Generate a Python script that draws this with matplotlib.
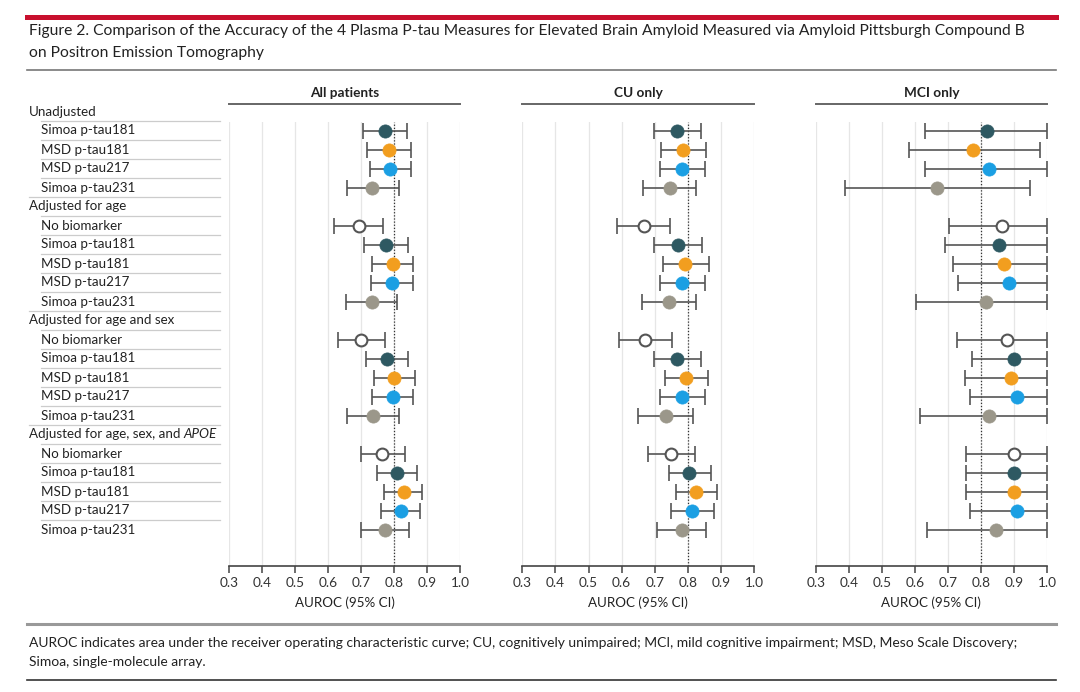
import matplotlib
matplotlib.use("Agg")
import matplotlib.pyplot as plt
from matplotlib.lines import Line2D

plt.rcParams['font.family'] = ['Lato', 'DejaVu Sans']

# ---------------- data ----------------
row_labels = ["Unadjusted", "Simoa p-tau181", "MSD p-tau181", "MSD p-tau217", "Simoa p-tau231",
              "Adjusted for age", "No biomarker", "Simoa p-tau181", "MSD p-tau181", "MSD p-tau217", "Simoa p-tau231",
              "Adjusted for age and sex", "No biomarker", "Simoa p-tau181", "MSD p-tau181", "MSD p-tau217", "Simoa p-tau231",
              "Adjusted for age, sex, and ", "No biomarker", "Simoa p-tau181", "MSD p-tau181", "MSD p-tau217", "Simoa p-tau231"]
is_header = [True, False, False, False, False,
             True, False, False, False, False, False,
             True, False, False, False, False, False,
             True, False, False, False, False, False]
measure = ["", "s181", "m181", "m217", "s231",
           "", "none", "s181", "m181", "m217", "s231",
           "", "none", "s181", "m181", "m217", "s231",
           "", "none", "s181", "m181", "m217", "s231"]

panel_titles = ["All patients", "CU only", "MCI only"]

# estimates / lower / upper for the 19 data rows, per panel
all_est = [0.772, 0.786, 0.788, 0.734,
           0.694, 0.775, 0.798, 0.795, 0.732,
           0.701, 0.780, 0.801, 0.796, 0.735,
           0.764, 0.810, 0.829, 0.821, 0.772]
all_lo = [0.707, 0.719, 0.726, 0.658,
          0.619, 0.709, 0.734, 0.731, 0.653,
          0.630, 0.714, 0.740, 0.734, 0.658,
          0.701, 0.747, 0.770, 0.761, 0.701]
all_hi = [0.838, 0.850, 0.852, 0.814,
          0.767, 0.841, 0.858, 0.857, 0.810,
          0.773, 0.843, 0.864, 0.858, 0.814,
          0.833, 0.869, 0.886, 0.880, 0.846]

cu_est = [0.767, 0.787, 0.781, 0.745,
          0.669, 0.770, 0.792, 0.783, 0.742,
          0.672, 0.768, 0.795, 0.782, 0.733,
          0.750, 0.805, 0.825, 0.814, 0.781]
cu_lo = [0.697, 0.720, 0.715, 0.664,
         0.587, 0.697, 0.725, 0.717, 0.662,
         0.593, 0.697, 0.730, 0.717, 0.651,
         0.681, 0.742, 0.765, 0.750, 0.708]
cu_hi = [0.840, 0.856, 0.851, 0.826,
         0.747, 0.842, 0.863, 0.853, 0.826,
         0.753, 0.840, 0.862, 0.851, 0.815,
         0.823, 0.870, 0.888, 0.878, 0.856]

mci_est = [0.817, 0.777, 0.824, 0.668,
           0.863, 0.855, 0.870, 0.885, 0.814,
           0.878, 0.901, 0.892, 0.909, 0.824,
           0.901, 0.901, 0.901, 0.909, 0.845]
mci_lo = [0.630, 0.581, 0.630, 0.390,
          0.704, 0.690, 0.717, 0.732, 0.603,
          0.729, 0.773, 0.753, 0.768, 0.616,
          0.756, 0.756, 0.756, 0.768, 0.638]
mci_hi = [1.000, 0.978, 1.000, 0.948,
          1.000, 1.000, 1.000, 1.000, 1.000,
          1.000, 1.000, 1.000, 1.000, 1.000,
          1.000, 1.000, 1.000, 1.000, 1.000]

xticks = [0.3, 0.4, 0.5, 0.6, 0.7, 0.8, 0.9, 1.0]
xtick_labels = ["0.3", "0.4", "0.5", "0.6", "0.7", "0.8", "0.9", "1.0"]

# ---------------- styling ----------------
colors = {"s181": "#2e5962", "m181": "#f29e1f", "m217": "#1b9fe3", "s231": "#9b978a", "none": "white"}

W, H = 1080, 692
fig = plt.figure(figsize=(W / 100, H / 100), dpi=100)
fig.patch.set_facecolor("white")


def fx(px):
    return px / W


def fy(py):
    return 1 - py / H


# header rules & title
fig.add_artist(Line2D([fx(27), fx(1056)], [fy(16.5), fy(16.5)], color="#c8102e", lw=3.6))
fig.text(fx(29), fy(31), "Figure 2. Comparison of the Accuracy of the 4 Plasma P-tau Measures for Elevated Brain Amyloid Measured via Amyloid Pittsburgh Compound B",
         fontsize=11.25, color="#222222", va="center", ha="left")
fig.text(fx(29), fy(53), "on Positron Emission Tomography", fontsize=11.25, color="#222222", va="center", ha="left")
fig.add_artist(Line2D([fx(27), fx(1056)], [fy(70), fy(70)], color="#777777", lw=1.2))

# footer
fig.add_artist(Line2D([fx(27), fx(1056)], [fy(624), fy(624)], color="#999999", lw=2.2))
fig.text(fx(29), fy(643), "AUROC indicates area under the receiver operating characteristic curve; CU, cognitively unimpaired; MCI, mild cognitive impairment; MSD, Meso Scale Discovery;",
         fontsize=10, color="#222222", va="center", ha="left")
fig.text(fx(29), fy(662), "Simoa, single-molecule array.", fontsize=10, color="#222222", va="center", ha="left")
fig.add_artist(Line2D([fx(27), fx(1056)], [fy(680), fy(680)], color="#333333", lw=1.2))

# row geometry (pixels)
row0_px, row_step = 111.5, 19.0
ax_top_px, ax_bot_px = 122.0, 566.0
nrows = len(row_labels)
ylim = ((ax_bot_px - row0_px) / row_step, (ax_top_px - row0_px) / row_step)

# left label axes
lab_ax = fig.add_axes([0, fy(ax_bot_px), fx(229), (ax_bot_px - ax_top_px) / H])
lab_ax.set_xlim(0, 229)
lab_ax.set_ylim(*ylim)
lab_ax.axis("off")
for i, (lab, hdr) in enumerate(zip(row_labels, is_header)):
    x = 29 if hdr else 41
    t = lab_ax.text(x, i, lab, fontsize=9.6, color="#222222", va="center", ha="left", clip_on=False)
    if i == 17:
        lab_ax.annotate("APOE", xy=(1, 0), xycoords=t, fontsize=9.6, color="#222222",
                        style="italic", va="bottom", ha="left", annotation_clip=False)
    if i > 0:
        lab_ax.plot([x, 220], [i - 0.5, i - 0.5], color="#cccccc", lw=0.9, clip_on=False)

# panels
panel_x = [(229.3, 460.0), (522.3, 754.0), (815.7, 1047.0)]
panel_data = [(all_est, all_lo, all_hi), (cu_est, cu_lo, cu_hi), (mci_est, mci_lo, mci_hi)]
data_rows = [i for i in range(nrows) if not is_header[i]]

for (x0, x1), title, (est, lo, hi) in zip(panel_x, panel_titles, panel_data):
    ax = fig.add_axes([fx(x0), fy(ax_bot_px), (x1 - x0) / W, (ax_bot_px - ax_top_px) / H])
    ax.set_xlim(0.3, 1.0)
    ax.set_ylim(*ylim)
    for s in ["top", "right", "left"]:
        ax.spines[s].set_visible(False)
    ax.spines["bottom"].set_color("#444444")
    ax.spines["bottom"].set_linewidth(1.2)
    ax.set_yticks([])
    ax.set_xticks(xticks)
    ax.set_xticklabels(xtick_labels, fontsize=9.8, color="#333333")
    ax.tick_params(axis="x", direction="out", length=5, width=1.1, color="#444444", pad=3)
    for xv in xticks:
        ax.axvline(xv, color="#e6e6e6", lw=0.9, zorder=0)
    ax.axvline(0.8, color="#333333", lw=0.9, ls=(0, (1, 1.5)), zorder=1)
    ax.set_xlabel("AUROC (95% CI)", fontsize=9.6, color="#222222", labelpad=5)

    for k, r in enumerate(data_rows):
        m = measure[r]
        ax.errorbar([est[k]], [r], xerr=[[est[k] - lo[k]], [hi[k] - est[k]]], fmt="none",
                    ecolor="#555555", elinewidth=1.2, capsize=6, capthick=1.2, zorder=2, clip_on=False)
        if m == "none":
            ax.plot(est[k], r, "o", ms=8.5, mfc="white", mec="#555555", mew=1.5, zorder=3, clip_on=False)
        else:
            ax.plot(est[k], r, "o", ms=9.5, mfc=colors[m], mec=colors[m], mew=0.5, zorder=3, clip_on=False)

    xc = (x0 + x1) / 2
    fig.text(fx(xc), fy(93), title, fontsize=9.8, fontweight="bold", color="#222222", ha="center", va="center")
    fig.add_artist(Line2D([fx(x0), fx(x1)], [fy(104), fy(104)], color="#666666", lw=1.4))

fig.savefig("out.png", dpi=100, facecolor="white")
